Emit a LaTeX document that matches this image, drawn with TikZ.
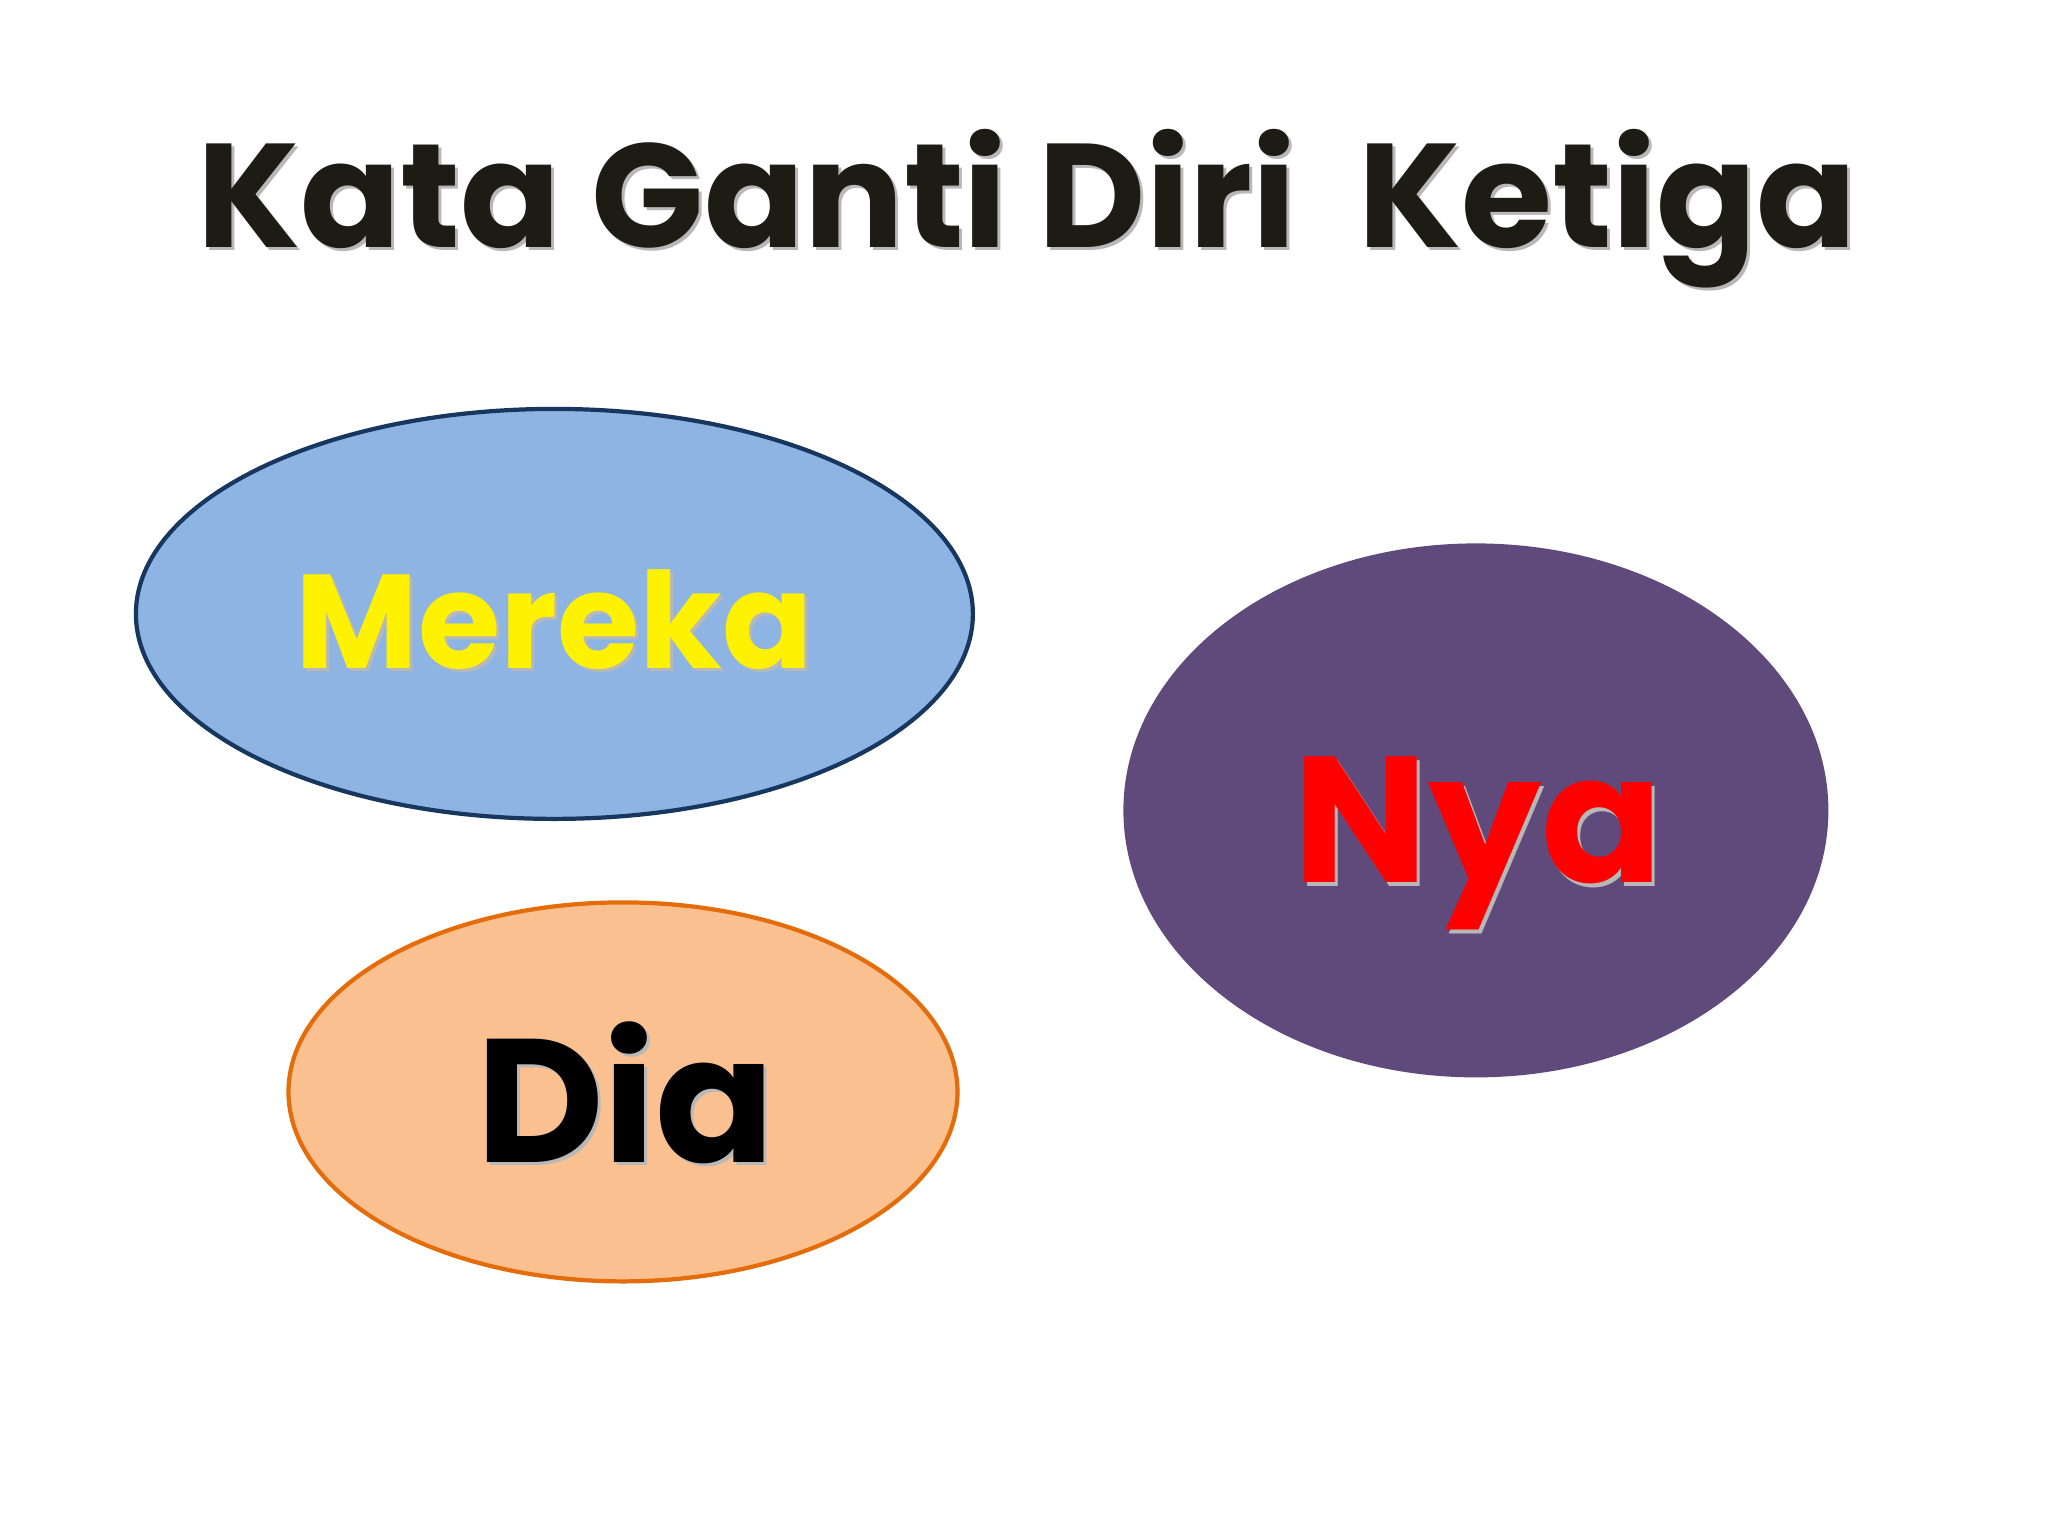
\documentclass[tikz,border=0pt]{standalone}
\usepackage{fontspec}
\setmainfont{Poppins}
\usetikzlibrary{shapes.geometric}
\definecolor{mblue}{HTML}{8EB4E3}
\definecolor{mnavy}{HTML}{17375E}
\definecolor{npurple}{HTML}{604A7B}
\definecolor{dpeach}{HTML}{FAC090}
\definecolor{dorange}{HTML}{E46C0A}
\definecolor{ink}{HTML}{1C1C14}
\begin{document}
\begin{tikzpicture}
        \tikzstyle{blob}=[ellipse,inner sep=0pt,line width=1.2pt]
        \tikzstyle{word}=[inner sep=0pt,anchor=base]
        \tikzstyle{shade}=[word,text=black!28]

        \useasboundingbox[fill=white] (0,0) rectangle (20.48,-15.36);

        % title
        \node (tshade)[shade,font=\fontsize{42pt}{50pt}\selectfont\bfseries] at (10.30,-2.51) {Kata Ganti Diri\ \ Ketiga};
        \node (title)[word,text=ink,font=\fontsize{42pt}{50pt}\selectfont\bfseries] at (10.27,-2.48) {Kata Ganti Diri\ \ Ketiga};

        % ovals
        \node (mereka)[blob,fill=mblue,draw=mnavy,minimum width=8.37cm,minimum height=4.1cm] at (5.544,-6.139) {};
        \node (nya)[blob,fill=npurple,minimum width=7.05cm,minimum height=5.34cm] at (14.759,-8.104) {};
        \node (dia)[blob,fill=dpeach,draw=dorange,minimum width=6.69cm,minimum height=3.79cm] at (6.23,-10.919) {};

        % words
        \node (mshade)[shade,font=\fontsize{38pt}{46pt}\selectfont\bfseries] at (5.574,-6.717) {Mereka};
        \node (mtext)[word,text=yellow,font=\fontsize{38pt}{46pt}\selectfont\bfseries] at (5.544,-6.687) {Mereka};
        \node (nshade)[shade,font=\fontsize{51pt}{61pt}\selectfont\bfseries] at (14.815,-8.86) {Nya};
        \node (ntext)[word,text=red,font=\fontsize{51pt}{61pt}\selectfont\bfseries] at (14.785,-8.83) {Nya};
        \node (dshade)[shade,font=\fontsize{50pt}{60pt}\selectfont\bfseries] at (6.286,-11.654) {Dia};
        \node (dtext)[word,text=black,font=\fontsize{50pt}{60pt}\selectfont\bfseries] at (6.256,-11.624) {Dia};
\end{tikzpicture}
\end{document}
